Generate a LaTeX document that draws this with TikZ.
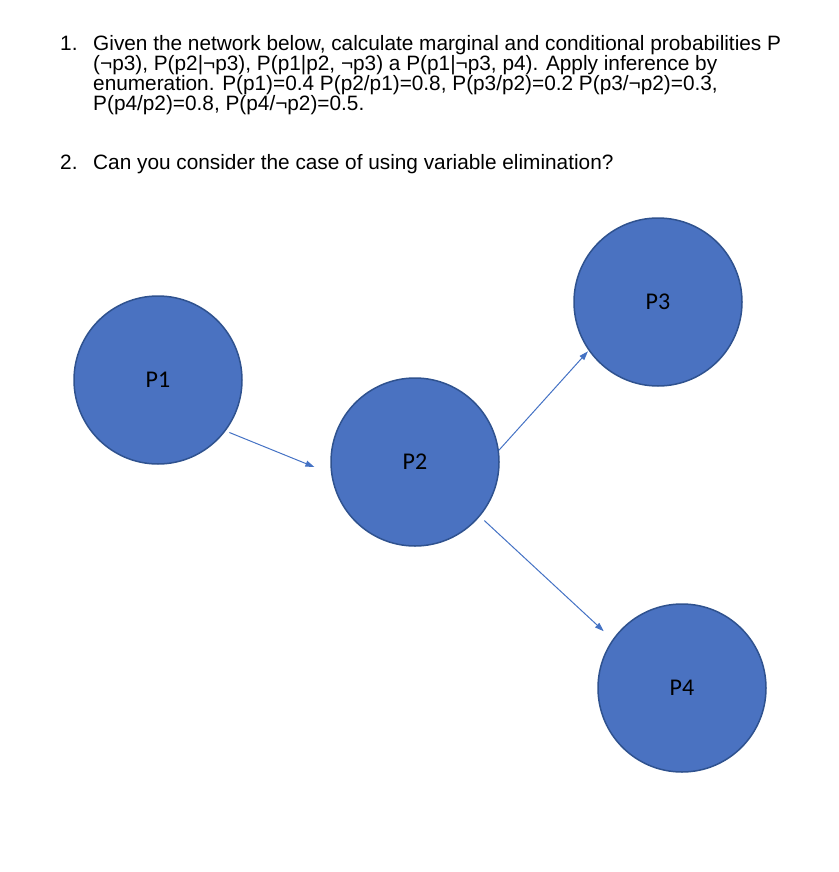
\documentclass[tikz,border=0pt]{standalone}
\usepackage{fontspec}
\setmainfont{Liberation Sans}
\newfontfamily\calib{Carlito}
\usetikzlibrary{arrows.meta}
\definecolor{nodefill}{HTML}{4A72C1}
\definecolor{nodeedge}{HTML}{2F528F}
\definecolor{arr}{HTML}{4472C4}
\begin{document}
\begin{tikzpicture}[x=1pt,y=-1pt,
  txt/.style={anchor=base west,inner sep=0pt,font=\fontsize{20.8}{22}\selectfont},
  bn/.style={circle,minimum size=168pt,fill=nodefill,draw=nodeedge,line width=1.5pt,font=\calib\fontsize{24}{28}\selectfont,text=black},
  link/.style={draw=arr,line width=1pt,-{Triangle[length=9pt,width=6pt]}}]
\useasboundingbox (0,0) rectangle (838,872);
\node[txt] (n1) at (60,51) {1.};
\node[txt] (l1) at (93,51) {Given the network below, calculate marginal and conditional probabilities P};
\node[txt] (l2) at (93,71) {(¬p3), P(p2|¬p3), P(p1|p2, ¬p3) a P(p1|¬p3, p4). Apply inference by};
\node[txt] (l3) at (93,91) {enumeration. P(p1)=0.4 P(p2/p1)=0.8, P(p3/p2)=0.2 P(p3/¬p2)=0.3,};
\node[txt] (l4) at (93,111) {P(p4/p2)=0.8, P(p4/¬p2)=0.5.};
\node[txt] (n2) at (60,169) {2.};
\node[txt] (l5) at (93,169) {Can you consider the case of using variable elimination?};
\node[bn] (p1) at (158,380) {P1};
\node[bn] (p2) at (415,462) {P2};
\node[bn] (p3) at (658,302) {P3};
\node[bn] (p4) at (682,688) {P4};
\draw[link,shorten <=4pt,shorten >=18pt] (p1.-37) -- (p2.188);
\draw[link,shorten >=1pt] (p2.8) -- (p3.215);
\draw[link,shorten <=6pt,shorten >=12pt] (p2.-40) -- (p4.145);
\end{tikzpicture}
\end{document}
